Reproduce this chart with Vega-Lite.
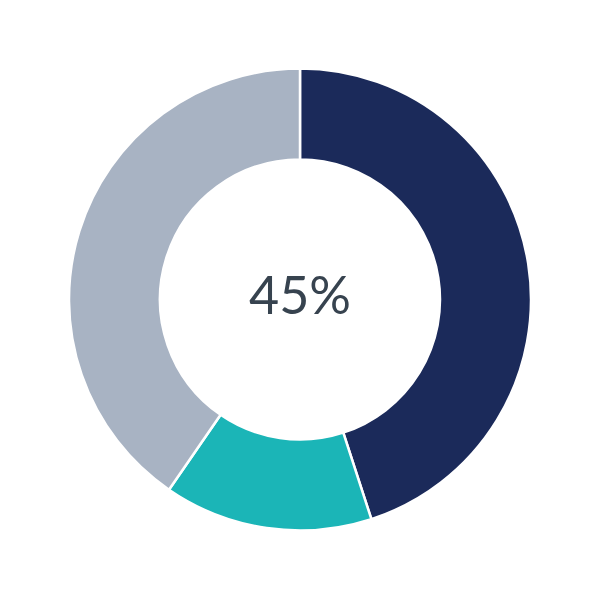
{
  "$schema": "https://vega.github.io/schema/vega-lite/v6.json",
  "width": 600,
  "height": 599,
  "padding": 0,
  "autosize": {"type": "fit", "contains": "padding"},
  "background": "white",
  "view": {"stroke": null},
  "datasets": {
    "slices": [
      {"segment": "A", "order": 1, "value": 45},
      {"segment": "B", "order": 2, "value": 14.6},
      {"segment": "C", "order": 3, "value": 40.4}
    ],
    "label": [{"text": "45%"}]
  },
  "layer": [
    {
      "data": {"name": "slices"},
      "mark": {"type": "arc", "outerRadius": 231, "innerRadius": 140, "stroke": "white", "strokeWidth": 2.5},
      "encoding": {
        "theta": {"field": "value", "type": "quantitative", "stack": true},
        "order": {"field": "order", "type": "quantitative"},
        "color": {
          "field": "segment",
          "type": "nominal",
          "scale": {"domain": ["A", "B", "C"], "range": ["#1b2a5a", "#1bb5b7", "#a8b3c3"]},
          "legend": null
        }
      }
    },
    {
      "data": {"name": "label"},
      "mark": {"type": "text", "font": "Lato", "fontSize": 52, "color": "#37434f", "align": "center", "baseline": "middle", "dy": -2},
      "encoding": {
        "text": {"field": "text", "type": "nominal"}
      }
    }
  ]
}
